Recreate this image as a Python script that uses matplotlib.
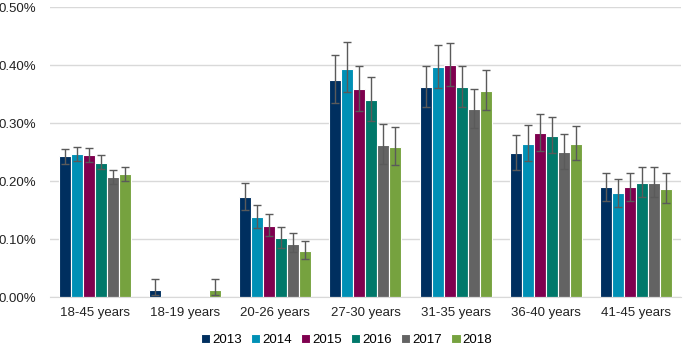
import numpy as np
import matplotlib
matplotlib.use("Agg")
import matplotlib.pyplot as plt
from matplotlib.ticker import FuncFormatter

plt.rcParams['font.family'] = ['Liberation Sans', 'DejaVu Sans']

# age groups and years
categories = ["18-45 years", "18-19 years", "20-26 years", "27-30 years",
              "31-35 years", "36-40 years", "41-45 years"]
years = ["2013", "2014", "2015", "2016", "2017", "2018"]

# values in percent, one list per year (None = no bar)
v2013 = [0.243, 0.0128, 0.172, 0.374, 0.362, 0.248, 0.189]
v2014 = [0.246, None, 0.138, 0.394, 0.396, 0.264, 0.179]
v2015 = [0.245, None, 0.123, 0.358, 0.400, 0.283, 0.189]
v2016 = [0.232, None, 0.102, 0.340, 0.362, 0.278, 0.196]
v2017 = [0.207, None, 0.092, 0.262, 0.324, 0.250, 0.197]
v2018 = [0.212, 0.0116, 0.079, 0.259, 0.355, 0.264, 0.187]

# error bar lower / upper ends
lo2013 = [0.230, 0.0035, 0.151, 0.334, 0.327, 0.219, 0.166]
hi2013 = [0.256, 0.032, 0.196, 0.417, 0.398, 0.280, 0.214]
lo2014 = [0.234, None, 0.119, 0.353, 0.360, 0.234, 0.155]
hi2014 = [0.258, None, 0.159, 0.439, 0.435, 0.296, 0.203]
lo2015 = [0.233, None, 0.106, 0.320, 0.364, 0.252, 0.165]
hi2015 = [0.257, None, 0.143, 0.398, 0.438, 0.315, 0.214]
lo2016 = [0.220, None, 0.085, 0.303, 0.327, 0.248, 0.172]
hi2016 = [0.245, None, 0.121, 0.379, 0.398, 0.311, 0.224]
lo2017 = [0.195, None, 0.077, 0.230, 0.291, 0.221, 0.172]
hi2017 = [0.219, None, 0.110, 0.298, 0.358, 0.281, 0.224]
lo2018 = [0.200, 0.0035, 0.065, 0.227, 0.322, 0.236, 0.163]
hi2018 = [0.224, 0.031, 0.096, 0.294, 0.391, 0.295, 0.214]

series = [v2013, v2014, v2015, v2016, v2017, v2018]
lows = [lo2013, lo2014, lo2015, lo2016, lo2017, lo2018]
highs = [hi2013, hi2014, hi2015, hi2016, hi2017, hi2018]
colors = ["#002F5F", "#0090B5", "#7F004F", "#00786A", "#636363", "#76A23F"]

fig = plt.figure(figsize=(6.85, 3.5), dpi=100)
ax = fig.add_axes([0.073, 0.151, 0.921, 0.829])

x = np.arange(len(categories))
width = 0.133
for i, (vals, lo, hi) in enumerate(zip(series, lows, highs)):
    pos = x + (i - 2.5) * width
    idx = [k for k, v in enumerate(vals) if v is not None]
    h = np.array([vals[k] for k in idx])
    p = pos[idx]
    ax.bar(p, h, width, color=colors[i], edgecolor="white", linewidth=0.8,
           label=years[i], zorder=2)
    err = np.array([[vals[k] - lo[k] for k in idx], [hi[k] - vals[k] for k in idx]])
    ax.errorbar(p, h, yerr=err, fmt="none", ecolor="#5a5a5a", elinewidth=1.0,
                capsize=3, capthick=1.0, zorder=3)

ax.set_ylim(0, 0.5)
ax.set_xlim(-0.5, len(categories) - 0.5)
ax.set_yticks(np.arange(0, 0.51, 0.1))
ax.yaxis.set_major_formatter(FuncFormatter(lambda v, _: f"{v:.2f}%"))
ax.set_xticks(x)
ax.set_xticklabels(categories)
ax.tick_params(axis="both", length=0, labelsize=9.5, colors="#222222")
ax.tick_params(axis="x", pad=7)
ax.tick_params(axis="y", pad=37)
for lbl in ax.get_yticklabels():
    lbl.set_horizontalalignment("left")
ax.grid(axis="y", color="#d9d9d9", linewidth=1.0, zorder=0)
for s in ["top", "right", "left"]:
    ax.spines[s].set_visible(False)
ax.spines["bottom"].set_color("#d9d9d9")

ax.legend(loc="center", bbox_to_anchor=(0.47, -0.148), ncol=6, frameon=False,
          fontsize=9.5, handlelength=0.7, handleheight=0.7, handletextpad=0.15,
          columnspacing=0.7)

fig.savefig("out.png", dpi=100)
